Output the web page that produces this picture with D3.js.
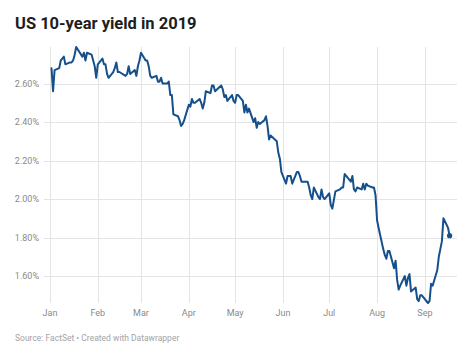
<!DOCTYPE html>
<html>
<head>
<meta charset="utf-8">
<script src="https://cdn.jsdelivr.net/npm/d3@7"></script>
<style>
  body { margin: 0; background: #fff; }
  svg { display: block; font-family: Roboto, "Noto Sans", sans-serif; }
</style>
</head>
<body>
<div id="chart"></div>
<script>
// Chart data: daily US 10-year yield (%)
const dates = [
  '2019-01-02','2019-01-03','2019-01-04','2019-01-07','2019-01-08','2019-01-09','2019-01-10','2019-01-11',
  '2019-01-14','2019-01-15','2019-01-16','2019-01-17','2019-01-18','2019-01-22','2019-01-23','2019-01-24',
  '2019-01-25','2019-01-28','2019-01-29','2019-01-30','2019-01-31',
  '2019-02-01','2019-02-04','2019-02-05','2019-02-06','2019-02-07','2019-02-08','2019-02-11','2019-02-12',
  '2019-02-13','2019-02-14','2019-02-15','2019-02-19','2019-02-20','2019-02-21','2019-02-22','2019-02-25',
  '2019-02-26','2019-02-27','2019-02-28',
  '2019-03-01','2019-03-04','2019-03-05','2019-03-06','2019-03-07','2019-03-08','2019-03-11','2019-03-12',
  '2019-03-13','2019-03-14','2019-03-15','2019-03-18','2019-03-19','2019-03-20','2019-03-21','2019-03-22',
  '2019-03-25','2019-03-26','2019-03-27','2019-03-28','2019-03-29',
  '2019-04-01','2019-04-02','2019-04-03','2019-04-04','2019-04-05','2019-04-08','2019-04-09','2019-04-10',
  '2019-04-11','2019-04-12','2019-04-15','2019-04-16','2019-04-17','2019-04-18','2019-04-22','2019-04-23',
  '2019-04-24','2019-04-25','2019-04-26','2019-04-29','2019-04-30',
  '2019-05-01','2019-05-02','2019-05-03','2019-05-06','2019-05-07','2019-05-08','2019-05-09','2019-05-10',
  '2019-05-13','2019-05-14','2019-05-15','2019-05-16','2019-05-17','2019-05-20','2019-05-21','2019-05-22',
  '2019-05-23','2019-05-24','2019-05-28','2019-05-29','2019-05-30','2019-05-31',
  '2019-06-03','2019-06-04','2019-06-05','2019-06-06','2019-06-07','2019-06-10','2019-06-11','2019-06-12',
  '2019-06-13','2019-06-14','2019-06-17','2019-06-18','2019-06-19','2019-06-20','2019-06-21','2019-06-24',
  '2019-06-25','2019-06-26','2019-06-27','2019-06-28',
  '2019-07-01','2019-07-02','2019-07-03','2019-07-05','2019-07-08','2019-07-09','2019-07-10','2019-07-11',
  '2019-07-12','2019-07-15','2019-07-16','2019-07-17','2019-07-18','2019-07-19','2019-07-22','2019-07-23',
  '2019-07-24','2019-07-25','2019-07-26','2019-07-29','2019-07-30','2019-07-31',
  '2019-08-01','2019-08-02','2019-08-05','2019-08-06','2019-08-07','2019-08-08','2019-08-09','2019-08-12',
  '2019-08-13','2019-08-14','2019-08-15','2019-08-16','2019-08-19','2019-08-20','2019-08-21','2019-08-22',
  '2019-08-23','2019-08-26','2019-08-27','2019-08-28','2019-08-29','2019-08-30',
  '2019-09-03','2019-09-04','2019-09-05','2019-09-06','2019-09-09','2019-09-10','2019-09-11','2019-09-12',
  '2019-09-13','2019-09-16','2019-09-17'
];

const yields = [
  2.68, 2.56, 2.67, 2.68, 2.72, 2.73, 2.74, 2.70,
  2.71, 2.71, 2.72, 2.75, 2.79, 2.74, 2.76, 2.72,
  2.76, 2.75, 2.72, 2.69, 2.63,
  2.70, 2.73, 2.70, 2.70, 2.65, 2.63, 2.66, 2.68,
  2.71, 2.66, 2.66, 2.64, 2.65, 2.69, 2.65, 2.67,
  2.64, 2.69, 2.72,
  2.76, 2.72, 2.72, 2.69, 2.64, 2.63, 2.64, 2.61,
  2.61, 2.63, 2.60, 2.60, 2.61, 2.54, 2.54, 2.44,
  2.43, 2.41, 2.38, 2.39, 2.41,
  2.49, 2.48, 2.52, 2.50, 2.50, 2.52, 2.50, 2.47,
  2.50, 2.56, 2.55, 2.59, 2.59, 2.56, 2.59, 2.57,
  2.53, 2.54, 2.51, 2.54, 2.51,
  2.50, 2.54, 2.54, 2.51, 2.45, 2.49, 2.45, 2.47,
  2.40, 2.42, 2.37, 2.40, 2.39, 2.41, 2.43, 2.38,
  2.31, 2.33, 2.30, 2.24, 2.21, 2.14,
  2.08, 2.12, 2.12, 2.12, 2.08, 2.14, 2.14, 2.12,
  2.09, 2.09, 2.09, 2.06, 2.02, 2.00, 2.06, 2.01,
  2.00, 2.05, 2.01, 2.00,
  2.03, 1.97, 1.95, 2.04, 2.05, 2.06, 2.06, 2.13,
  2.12, 2.09, 2.12, 2.05, 2.04, 2.06, 2.05, 2.08,
  2.05, 2.08, 2.07, 2.06, 2.06, 2.02,
  1.89, 1.85, 1.74, 1.71, 1.69, 1.73, 1.73, 1.64,
  1.68, 1.58, 1.53, 1.55, 1.60, 1.55, 1.59, 1.61,
  1.52, 1.54, 1.48, 1.47, 1.50, 1.50,
  1.46, 1.47, 1.56, 1.55, 1.63, 1.70, 1.74, 1.78,
  1.90, 1.85, 1.81
];

const yTicks = [1.6, 1.8, 2.0, 2.2, 2.4, 2.6];
const monthLabels = ['Jan', 'Feb', 'Mar', 'Apr', 'May', 'Jun', 'Jul', 'Aug', 'Sep'];

const titleText = 'US 10-year yield in 2019';
const sourceText = 'Source: FactSet \u2022 Created with Datawrapper';

// Dimensions
const width = 474;
const height = 362;
const plot = { left: 51.5, right: 449.6, top: 47, bottom: 303 };

const parseDate = d3.timeParse('%Y-%m-%d');
const data = dates.map((d, i) => ({ date: parseDate(d), value: yields[i] }));

const svg = d3.select('#chart')
  .append('svg')
  .attr('width', width)
  .attr('height', height);

// Scales
const xScale = d3.scaleTime()
  .domain(d3.extent(data, d => d.date))
  .range([plot.left, plot.right]);

const yScale = d3.scaleLinear()
  .domain(d3.extent(data, d => d.value))
  .range([plot.bottom, plot.top]);

const months = d3.timeMonth.range(new Date(2019, 0, 1), new Date(2019, 9, 1));

// Title
svg.append('text')
  .attr('x', 15)
  .attr('y', 29)
  .style('font-size', '16.5px')
  .style('font-weight', 'bold')
  .style('fill', '#1d1d1d')
  .text(titleText);

// Horizontal grid lines + y labels
const yGrid = svg.append('g');
yGrid.selectAll('line')
  .data(yTicks)
  .enter()
  .append('line')
  .attr('x1', 44)
  .attr('x2', 457)
  .attr('y1', d => Math.round(yScale(d)) + 0.5)
  .attr('y2', d => Math.round(yScale(d)) + 0.5)
  .attr('stroke', '#e4e4e4')
  .attr('stroke-width', 1);

yGrid.selectAll('text')
  .data(yTicks)
  .enter()
  .append('text')
  .attr('x', 39)
  .attr('y', d => yScale(d))
  .attr('dy', '0.34em')
  .attr('text-anchor', 'end')
  .style('font-size', '9px')
  .style('fill', '#8a8a8a')
  .text(d => d.toFixed(2) + '%');

// Vertical month grid lines + x labels
const xGrid = svg.append('g');
xGrid.selectAll('line')
  .data(months)
  .enter()
  .append('line')
  .attr('x1', d => Math.round(xScale(d)) + 0.5)
  .attr('x2', d => Math.round(xScale(d)) + 0.5)
  .attr('y1', plot.top)
  .attr('y2', plot.bottom)
  .attr('stroke', '#e4e4e4')
  .attr('stroke-width', 1);

xGrid.selectAll('text')
  .data(months)
  .enter()
  .append('text')
  .attr('x', d => xScale(d))
  .attr('y', 316)
  .attr('text-anchor', 'middle')
  .style('font-size', '9px')
  .style('fill', '#8a8a8a')
  .text((d, i) => monthLabels[i]);

// The yield line
const line = d3.line()
  .x(d => xScale(d.date))
  .y(d => yScale(d.value));

svg.append('path')
  .datum(data)
  .attr('d', line)
  .attr('fill', 'none')
  .attr('stroke', '#16508c')
  .attr('stroke-width', 2)
  .attr('stroke-linejoin', 'round')
  .attr('stroke-linecap', 'round');

// Dot on the last value
const last = data[data.length - 1];
svg.append('circle')
  .attr('cx', xScale(last.date))
  .attr('cy', yScale(last.value))
  .attr('r', 2.6)
  .attr('fill', '#16508c');

// Source line
svg.append('text')
  .attr('x', 15)
  .attr('y', 341)
  .style('font-size', '8.5px')
  .style('fill', '#a3a3a3')
  .text(sourceText);
</script>
</body>
</html>
